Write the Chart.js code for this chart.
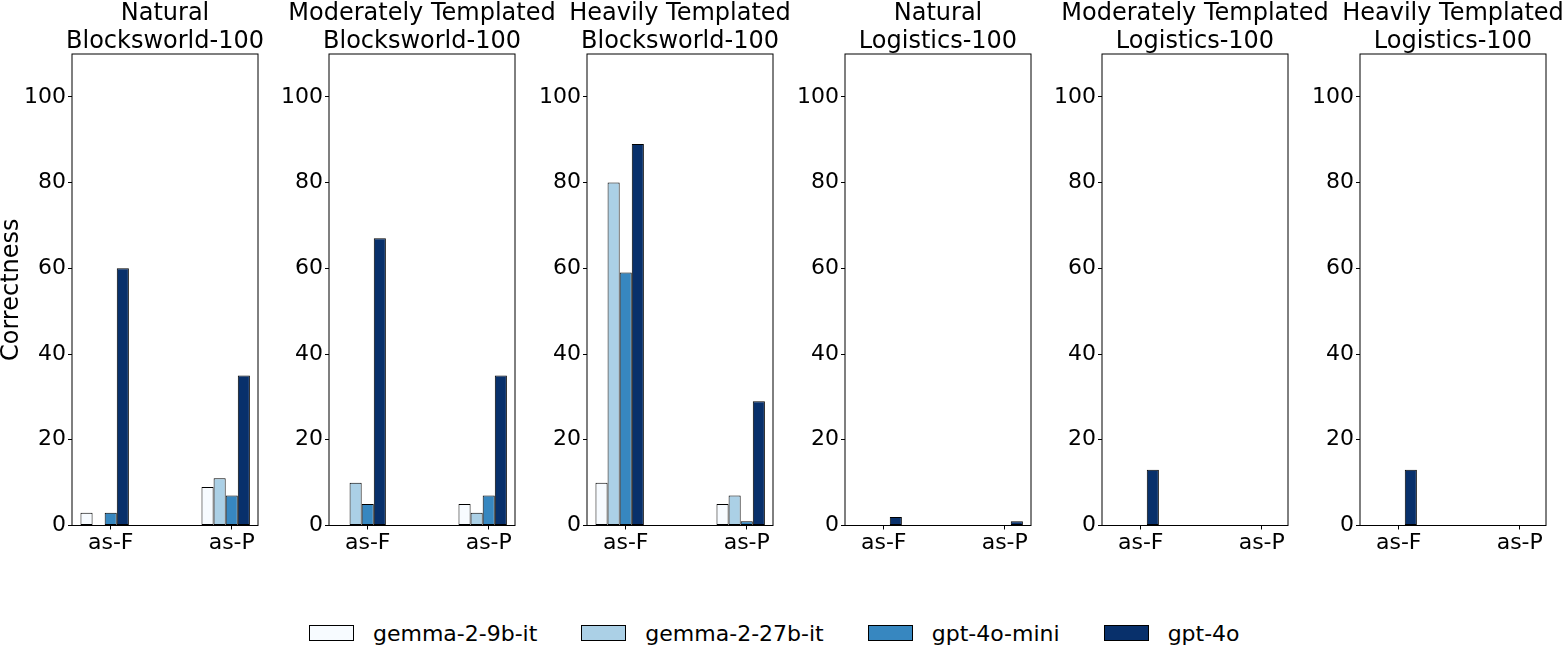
<!DOCTYPE html>
<html>
<head>
<meta charset="utf-8">
<script src="https://cdn.jsdelivr.net/npm/chart.js@4.4.1/dist/chart.umd.min.js"></script>
<style>
  body { margin: 0; background: #fff; width: 1568px; height: 647px; position: relative; overflow: hidden; font-family: 'DejaVu Sans', sans-serif; }
  canvas.panel { position: absolute; top: 0; }
  #legend { position: absolute; left: 309px; top: 620px; height: 26px; display: flex; align-items: center; gap: 44px; font-size: 22px; color: #000; white-space: nowrap; }
  .item { display: flex; align-items: center; }
  .sw { width: 45px; height: 16px; box-sizing: border-box; border: 1px solid #000; margin-right: 19px; }
</style>
</head>
<body>
<div id="legend"></div>
<script>
const categories = ['as-F', 'as-P'];
const models = ['gemma-2-9b-it', 'gemma-2-27b-it', 'gpt-4o-mini', 'gpt-4o'];
const colors = ['#f7fbff', '#abd0e6', '#3787c0', '#08306b'];
const yTicks = [0, 20, 40, 60, 80, 100];

const panelTitles = [
  ['Natural', 'Blocksworld-100'],
  ['Moderately Templated', 'Blocksworld-100'],
  ['Heavily Templated', 'Blocksworld-100'],
  ['Natural', 'Logistics-100'],
  ['Moderately Templated', 'Logistics-100'],
  ['Heavily Templated', 'Logistics-100']
];

// one row per model: [as-F, as-P]
const naturalBlocks = [[3, 9], [0, 11], [3, 7], [60, 35]];
const moderateBlocks = [[0, 5], [10, 3], [5, 7], [67, 35]];
const heavyBlocks = [[10, 5], [80, 7], [59, 1], [89, 29]];
const naturalLogistics = [[0, 0], [0, 0], [0, 0], [2, 1]];
const moderateLogistics = [[0, 0], [0, 0], [0, 0], [13, 0]];
const heavyLogistics = [[0, 0], [0, 0], [0, 0], [13, 0]];

const panelValues = [naturalBlocks, moderateBlocks, heavyBlocks, naturalLogistics, moderateLogistics, heavyLogistics];

Chart.defaults.font.family = "'DejaVu Sans', sans-serif";
Chart.defaults.color = '#000';

const plotLefts = [72, 329, 587, 845, 1102, 1360];
const plotWidth = 186;
const sideWidth = 72;
const groupShift = -0.05;

const frame = {
  id: 'frame',
  afterDatasetsDraw(chart) {
    const { ctx, chartArea: a } = chart;
    ctx.save();
    ctx.strokeStyle = '#000';
    ctx.lineWidth = 1;
    ctx.strokeRect(a.left, a.top, a.right - a.left, a.bottom - a.top);
    ctx.restore();
  }
};

const tickGrid = { display: true, offset: false, drawOnChartArea: false, drawTicks: true, tickLength: 4, color: '#000' };

panelValues.forEach((values, k) => {
  const canvas = document.createElement('canvas');
  canvas.className = 'panel';
  canvas.width = sideWidth * 2 + plotWidth;
  canvas.height = 600;
  canvas.style.left = (plotLefts[k] - sideWidth) + 'px';
  document.body.appendChild(canvas);

  new Chart(canvas, {
    type: 'bar',
    data: {
      datasets: models.map((m, j) => ({
        label: m,
        data: values[j].map((v, i) => ({ x: i + groupShift, y: v })),
        backgroundColor: colors[j],
        borderColor: '#000',
        borderWidth: 1,
        borderSkipped: false,
        categoryPercentage: 0.4,
        barPercentage: 1
      }))
    },
    options: {
      responsive: false,
      animation: false,
      events: [],
      layout: { padding: 0 },
      plugins: {
        legend: { display: false },
        tooltip: { enabled: false },
        title: {
          display: true,
          text: panelTitles[k],
          font: { size: 24, weight: 'normal', lineHeight: 1.15 },
          padding: { top: 0, bottom: -1.2 }
        }
      },
      scales: {
        x: {
          type: 'linear',
          offset: false,
          min: -0.32,
          max: 1.217,
          afterBuildTicks: (s) => { s.ticks = categories.map((c, i) => ({ value: i })); },
          ticks: { callback: (v) => categories[v], font: { size: 22 }, padding: 1, autoSkip: false, maxRotation: 0 },
          grid: tickGrid,
          border: { display: false },
          afterFit: (s) => { s.height = 74.5; }
        },
        y: {
          min: 0,
          max: 110,
          afterBuildTicks: (s) => { s.ticks = yTicks.map((v) => ({ value: v })); },
          ticks: { font: { size: 22 }, padding: 2 },
          grid: tickGrid,
          border: { display: false },
          title: { display: k === 0, text: 'Correctness', font: { size: 24, lineHeight: 1 }, padding: 0 },
          afterFit: (s) => { s.width = sideWidth; }
        },
        pad: {
          type: 'linear',
          axis: 'y',
          position: 'right',
          ticks: { display: false },
          grid: { display: false },
          border: { display: false },
          afterFit: (s) => { s.width = sideWidth; }
        }
      }
    },
    plugins: [frame]
  });
});

const legend = document.getElementById('legend');
models.forEach((m, j) => {
  const item = document.createElement('div');
  item.className = 'item';
  const sw = document.createElement('span');
  sw.className = 'sw';
  sw.style.background = colors[j];
  const label = document.createElement('span');
  label.textContent = m;
  item.appendChild(sw);
  item.appendChild(label);
  legend.appendChild(item);
});
</script>
</body>
</html>
